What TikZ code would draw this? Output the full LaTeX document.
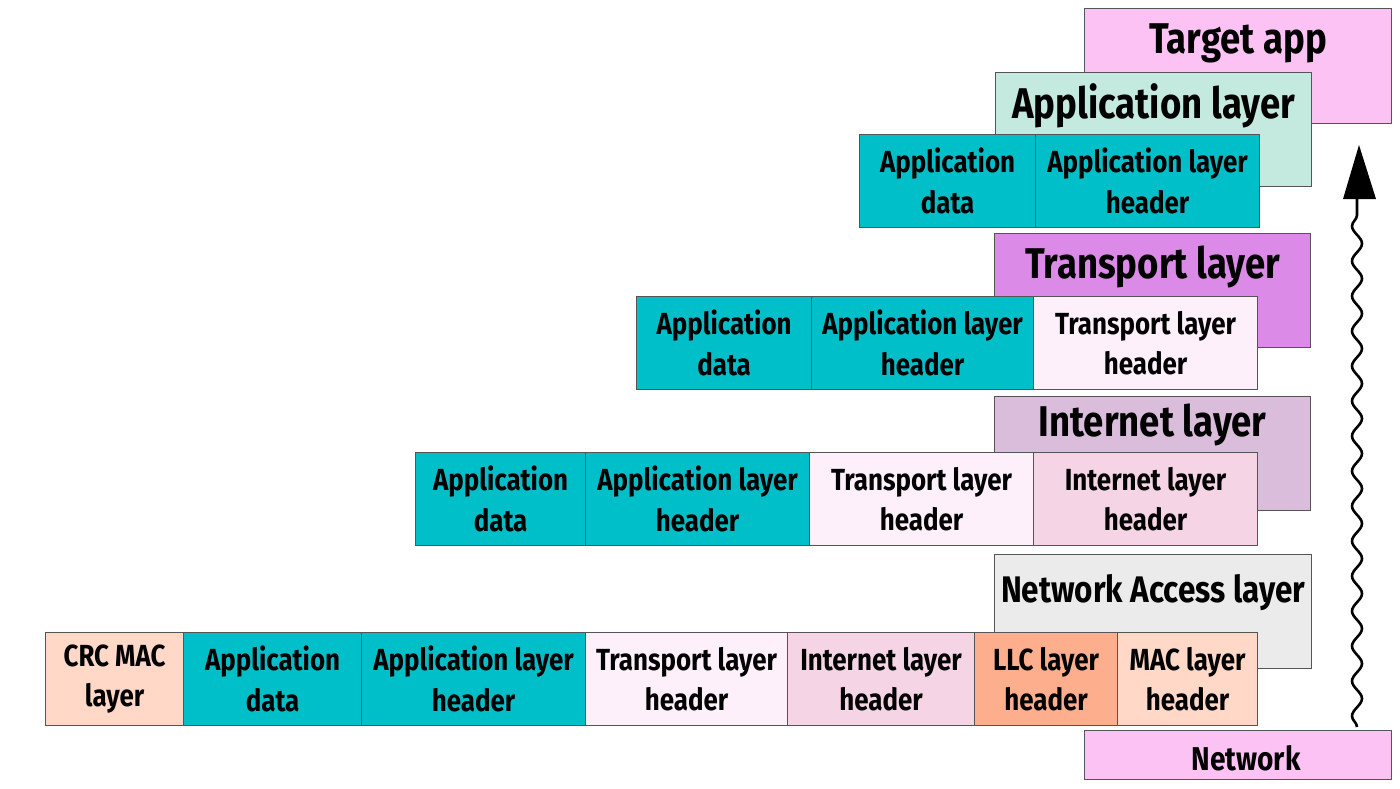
\documentclass[tikz,border=0pt]{standalone}
\usepackage{fontspec}
\setmainfont{Fira Sans}[FakeStretch=0.85,UprightFont=* Bold]
\usetikzlibrary{decorations.pathmorphing}
\definecolor{cpink}{HTML}{FDC2F4}
\definecolor{cmint}{HTML}{C4E9DF}
\definecolor{cteal}{HTML}{00BFC8}
\definecolor{corchid}{HTML}{DC8AE8}
\definecolor{ctrans}{HTML}{FDF0FB}
\definecolor{cinetbig}{HTML}{D9BDDB}
\definecolor{cinet}{HTML}{F5D5E5}
\definecolor{cgray}{HTML}{EBEBEB}
\definecolor{cllc}{HTML}{FDAE8D}
\definecolor{cmac}{HTML}{FFD8C8}
\definecolor{cedge}{HTML}{555555}
\begin{document}
\begin{tikzpicture}[x=1pt,y=-1pt,
  box/.style={draw=cedge,line width=1.2pt,anchor=north west,inner sep=0pt,
    align=center,font=\fontsize{30.5}{40.5}\selectfont},
  title/.style={font=\fontsize{43}{46}\selectfont,inner sep=0pt},
  wave/.style={line width=2.6pt,decorate,decoration={snake,amplitude=5pt,segment length=35pt}}]
\useasboundingbox (0,0) rectangle (1400,788);
\fill[white] (0,0) rectangle (1400,788);
% big layer boxes
\node[box,fill=cpink,minimum width=307,minimum height=115] (tgt) at (1084,8) {};
\node[title] at ([yshift=-35]tgt.north) {Target app};
\node[box,fill=cmint,minimum width=316,minimum height=114] (appl) at (995,72) {};
\node[title] at ([yshift=-34]appl.north) {Application layer};
\node[box,fill=corchid,minimum width=316,minimum height=114] (trl) at (994,233) {};
\node[title] at ([yshift=-34]trl.north) {Transport layer};
\node[box,fill=cinetbig,minimum width=316,minimum height=114] (inl) at (994,396) {};
\node[title] at ([yshift=-29]inl.north) {Internet layer};
\node[box,fill=cgray,minimum width=317,minimum height=114] (nal) at (994,554) {};
\node[title,font=\fontsize{37}{40}\selectfont] at ([yshift=-39]nal.north) {Network Access layer};
\node[box,fill=cpink,minimum width=307,minimum height=49] (net) at (1084,730) {};
\node[title,font=\fontsize{33}{36}\selectfont] at ([xshift=8,yshift=-3]net.center) {Network};
% row 1
\node[box,fill=cteal,minimum width=176,minimum height=93] (r1a) at (859,134) {Application\\data};
\node[box,fill=cteal,minimum width=224,minimum height=93] (r1b) at (1035,134) {Application layer\\header};
% row 2
\node[box,fill=cteal,minimum width=175,minimum height=93] (r2a) at (636,296) {Application\\data};
\node[box,fill=cteal,minimum width=222,minimum height=93] (r2b) at (811,296) {Application layer\\header};
\node[box,fill=ctrans,minimum width=224,minimum height=93] (r2c) at (1033,296) {Transport layer\\header};
% row 3
\node[box,fill=cteal,minimum width=170,minimum height=93] (r3a) at (415,452) {Application\\data};
\node[box,fill=cteal,minimum width=224,minimum height=93] (r3b) at (585,452) {Application layer\\header};
\node[box,fill=ctrans,minimum width=224,minimum height=93] (r3c) at (809,452) {Transport layer\\header};
\node[box,fill=cinet,minimum width=224,minimum height=93] (r3d) at (1033,452) {Internet layer\\header};
% row 4
\node[box,fill=cmac,minimum width=138,minimum height=93] (r4a) at (45,632) {CRC MAC\\layer};
\node[box,fill=cteal,minimum width=178,minimum height=93] (r4b) at (183,632) {Application\\data};
\node[box,fill=cteal,minimum width=224,minimum height=93] (r4c) at (361,632) {Application layer\\header};
\node[box,fill=ctrans,minimum width=202,minimum height=93] (r4d) at (585,632) {Transport layer\\header};
\node[box,fill=cinet,minimum width=187,minimum height=93] (r4e) at (787,632) {Internet layer\\header};
\node[box,fill=cllc,minimum width=143,minimum height=93] (r4f) at (974,632) {LLC layer\\header};
\node[box,fill=cmac,minimum width=140,minimum height=93] (r4g) at (1117,632) {MAC layer\\header};
% arrow
\coordinate (ws) at (1357,727);
\coordinate (we) at (1357,198);
\coordinate (tip) at (1359,145);
\draw[wave] (ws) -- (we);
\fill[black] (1343,199) -- (1376,199) -- (tip) -- cycle;
\end{tikzpicture}
\end{document}
